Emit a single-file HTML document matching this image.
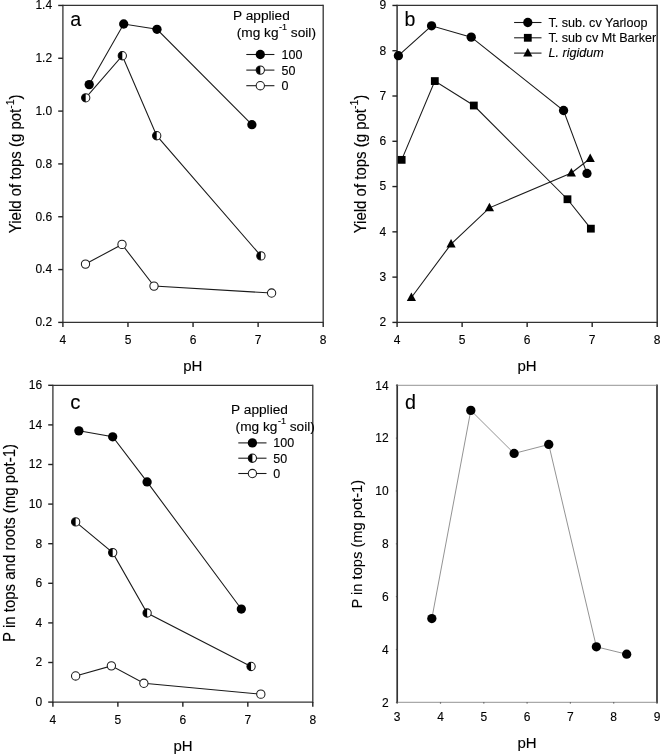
<!DOCTYPE html>
<html><head><meta charset="utf-8"><title>Figure</title>
<style>
html,body{margin:0;padding:0;background:#fff;}
svg{display:block;}
svg text{font-family:"Liberation Sans", Arial, sans-serif;fill:#000;stroke:#000;stroke-width:0.12px;}
</style></head><body>
<svg width="661" height="755" viewBox="0 0 661 755">
<rect width="661" height="755" fill="#fff"/>
<line x1="62.90" y1="4.80" x2="62.90" y2="323.05" stroke="#333" stroke-width="1.3"/>
<line x1="323.20" y1="4.80" x2="323.20" y2="323.05" stroke="#333" stroke-width="1.3"/>
<line x1="62.90" y1="5.45" x2="323.20" y2="5.45" stroke="#333" stroke-width="1.3"/>
<line x1="62.90" y1="322.40" x2="323.20" y2="322.40" stroke="#333" stroke-width="1.3"/>
<line x1="62.90" y1="322.40" x2="62.90" y2="327.10" stroke="#222" stroke-width="1.4"/>
<text x="62.90" y="343.90" font-size="12" text-anchor="middle" >4</text>
<line x1="127.97" y1="322.40" x2="127.97" y2="327.10" stroke="#222" stroke-width="1.4"/>
<text x="127.97" y="343.90" font-size="12" text-anchor="middle" >5</text>
<line x1="193.05" y1="322.40" x2="193.05" y2="327.10" stroke="#222" stroke-width="1.4"/>
<text x="193.05" y="343.90" font-size="12" text-anchor="middle" >6</text>
<line x1="258.12" y1="322.40" x2="258.12" y2="327.10" stroke="#222" stroke-width="1.4"/>
<text x="258.12" y="343.90" font-size="12" text-anchor="middle" >7</text>
<line x1="323.20" y1="322.40" x2="323.20" y2="327.10" stroke="#222" stroke-width="1.4"/>
<text x="323.20" y="343.90" font-size="12" text-anchor="middle" >8</text>
<line x1="58.20" y1="322.40" x2="62.90" y2="322.40" stroke="#222" stroke-width="1.4"/>
<text x="52.10" y="326.30" font-size="12" text-anchor="end" >0.2</text>
<line x1="58.20" y1="269.57" x2="62.90" y2="269.57" stroke="#222" stroke-width="1.4"/>
<text x="52.10" y="273.47" font-size="12" text-anchor="end" >0.4</text>
<line x1="58.20" y1="216.75" x2="62.90" y2="216.75" stroke="#222" stroke-width="1.4"/>
<text x="52.10" y="220.65" font-size="12" text-anchor="end" >0.6</text>
<line x1="58.20" y1="163.92" x2="62.90" y2="163.92" stroke="#222" stroke-width="1.4"/>
<text x="52.10" y="167.82" font-size="12" text-anchor="end" >0.8</text>
<line x1="58.20" y1="111.10" x2="62.90" y2="111.10" stroke="#222" stroke-width="1.4"/>
<text x="52.10" y="115.00" font-size="12" text-anchor="end" >1.0</text>
<line x1="58.20" y1="58.27" x2="62.90" y2="58.27" stroke="#222" stroke-width="1.4"/>
<text x="52.10" y="62.17" font-size="12" text-anchor="end" >1.2</text>
<line x1="58.20" y1="5.45" x2="62.90" y2="5.45" stroke="#222" stroke-width="1.4"/>
<text x="52.10" y="9.35" font-size="12" text-anchor="end" >1.4</text>
<polyline points="89.20,84.60 123.70,24.00 157.00,29.30 251.90,124.70" fill="none" stroke="#1a1a1a" stroke-width="1.08"/>
<polyline points="85.70,97.80 122.30,55.70 156.70,135.70 260.90,255.90" fill="none" stroke="#1a1a1a" stroke-width="1.08"/>
<polyline points="85.50,264.10 122.00,244.40 154.00,286.10 271.60,293.00" fill="none" stroke="#1a1a1a" stroke-width="1.08"/>
<circle cx="89.20" cy="84.60" r="4.65" fill="#000"/>
<circle cx="123.70" cy="24.00" r="4.65" fill="#000"/>
<circle cx="157.00" cy="29.30" r="4.65" fill="#000"/>
<circle cx="251.90" cy="124.70" r="4.65" fill="#000"/>
<circle cx="85.70" cy="97.80" r="4.15" fill="#fff" stroke="#1a1a1a" stroke-width="1.05"/>
<path d="M85.70 93.65 A4.15 4.15 0 0 0 85.70 101.95 Z" fill="#000"/>
<circle cx="122.30" cy="55.70" r="4.15" fill="#fff" stroke="#1a1a1a" stroke-width="1.05"/>
<path d="M122.30 51.55 A4.15 4.15 0 0 0 122.30 59.85 Z" fill="#000"/>
<circle cx="156.70" cy="135.70" r="4.15" fill="#fff" stroke="#1a1a1a" stroke-width="1.05"/>
<path d="M156.70 131.55 A4.15 4.15 0 0 0 156.70 139.85 Z" fill="#000"/>
<circle cx="260.90" cy="255.90" r="4.15" fill="#fff" stroke="#1a1a1a" stroke-width="1.05"/>
<path d="M260.90 251.75 A4.15 4.15 0 0 0 260.90 260.05 Z" fill="#000"/>
<circle cx="85.50" cy="264.10" r="4.15" fill="#fff" stroke="#1a1a1a" stroke-width="1.05"/>
<circle cx="122.00" cy="244.40" r="4.15" fill="#fff" stroke="#1a1a1a" stroke-width="1.05"/>
<circle cx="154.00" cy="286.10" r="4.15" fill="#fff" stroke="#1a1a1a" stroke-width="1.05"/>
<circle cx="271.60" cy="293.00" r="4.15" fill="#fff" stroke="#1a1a1a" stroke-width="1.05"/>
<text x="70.30" y="26.10" font-size="19.7" text-anchor="start" >a</text>
<text x="192.80" y="370.80" font-size="15" text-anchor="middle" >pH</text>
<text transform="translate(21.40,163.80) rotate(-90) scale(1,1.06)" font-size="15" text-anchor="middle">Yield of tops (g pot<tspan dy="-7.3" font-size="10.5">-1</tspan><tspan dy="7.3">)</tspan></text>
<text x="233.00" y="19.60" font-size="13.7" text-anchor="start" >P applied</text>
<text x="236.70" y="37.20" font-size="13.7" text-anchor="start" >(mg kg<tspan dy="-7.2" dx="0.5" font-size="9">-1</tspan><tspan dy="7.2"> soil)</tspan></text>
<line x1="246.30" y1="54.50" x2="274.40" y2="54.50" stroke="#1a1a1a" stroke-width="1.08"/>
<circle cx="260.30" cy="54.50" r="4.65" fill="#000"/>
<text x="281.60" y="58.90" font-size="12.5" text-anchor="start" >100</text>
<line x1="246.30" y1="70.10" x2="274.40" y2="70.10" stroke="#1a1a1a" stroke-width="1.08"/>
<circle cx="260.30" cy="70.10" r="4.15" fill="#fff" stroke="#1a1a1a" stroke-width="1.05"/>
<path d="M260.30 65.95 A4.15 4.15 0 0 0 260.30 74.25 Z" fill="#000"/>
<text x="281.60" y="74.50" font-size="12.5" text-anchor="start" >50</text>
<line x1="246.30" y1="85.70" x2="274.40" y2="85.70" stroke="#1a1a1a" stroke-width="1.08"/>
<circle cx="260.30" cy="85.70" r="4.15" fill="#fff" stroke="#1a1a1a" stroke-width="1.05"/>
<text x="281.60" y="90.10" font-size="12.5" text-anchor="start" >0</text>
<line x1="397.10" y1="4.70" x2="397.10" y2="323.15" stroke="#333" stroke-width="1.5"/>
<line x1="657.20" y1="4.70" x2="657.20" y2="323.15" stroke="#333" stroke-width="1.5"/>
<line x1="397.10" y1="5.45" x2="657.20" y2="5.45" stroke="#333" stroke-width="1.3"/>
<line x1="397.10" y1="322.40" x2="657.20" y2="322.40" stroke="#333" stroke-width="1.3"/>
<line x1="397.10" y1="322.40" x2="397.10" y2="327.10" stroke="#222" stroke-width="1.4"/>
<text x="397.10" y="343.90" font-size="12" text-anchor="middle" >4</text>
<line x1="462.12" y1="322.40" x2="462.12" y2="327.10" stroke="#222" stroke-width="1.4"/>
<text x="462.12" y="343.90" font-size="12" text-anchor="middle" >5</text>
<line x1="527.15" y1="322.40" x2="527.15" y2="327.10" stroke="#222" stroke-width="1.4"/>
<text x="527.15" y="343.90" font-size="12" text-anchor="middle" >6</text>
<line x1="592.18" y1="322.40" x2="592.18" y2="327.10" stroke="#222" stroke-width="1.4"/>
<text x="592.18" y="343.90" font-size="12" text-anchor="middle" >7</text>
<line x1="657.20" y1="322.40" x2="657.20" y2="327.10" stroke="#222" stroke-width="1.4"/>
<text x="657.20" y="343.90" font-size="12" text-anchor="middle" >8</text>
<line x1="392.40" y1="322.40" x2="397.10" y2="322.40" stroke="#222" stroke-width="1.4"/>
<text x="386.30" y="326.30" font-size="12" text-anchor="end" >2</text>
<line x1="392.40" y1="277.12" x2="397.10" y2="277.12" stroke="#222" stroke-width="1.4"/>
<text x="386.30" y="281.02" font-size="12" text-anchor="end" >3</text>
<line x1="392.40" y1="231.84" x2="397.10" y2="231.84" stroke="#222" stroke-width="1.4"/>
<text x="386.30" y="235.74" font-size="12" text-anchor="end" >4</text>
<line x1="392.40" y1="186.56" x2="397.10" y2="186.56" stroke="#222" stroke-width="1.4"/>
<text x="386.30" y="190.46" font-size="12" text-anchor="end" >5</text>
<line x1="392.40" y1="141.29" x2="397.10" y2="141.29" stroke="#222" stroke-width="1.4"/>
<text x="386.30" y="145.19" font-size="12" text-anchor="end" >6</text>
<line x1="392.40" y1="96.01" x2="397.10" y2="96.01" stroke="#222" stroke-width="1.4"/>
<text x="386.30" y="99.91" font-size="12" text-anchor="end" >7</text>
<line x1="392.40" y1="50.73" x2="397.10" y2="50.73" stroke="#222" stroke-width="1.4"/>
<text x="386.30" y="54.63" font-size="12" text-anchor="end" >8</text>
<line x1="392.40" y1="5.45" x2="397.10" y2="5.45" stroke="#222" stroke-width="1.4"/>
<text x="386.30" y="9.35" font-size="12" text-anchor="end" >9</text>
<polyline points="398.40,55.71 431.56,25.83 471.23,37.14 563.56,110.50 586.97,173.43" fill="none" stroke="#1a1a1a" stroke-width="1.08"/>
<polyline points="401.65,159.85 434.81,81.07 473.83,105.52 567.47,199.24 590.87,228.67" fill="none" stroke="#1a1a1a" stroke-width="1.08"/>
<polyline points="411.41,297.50 451.07,244.07 489.44,207.85 571.37,172.98 590.22,158.49" fill="none" stroke="#1a1a1a" stroke-width="1.08"/>
<circle cx="398.40" cy="55.71" r="4.65" fill="#000"/>
<circle cx="431.56" cy="25.83" r="4.65" fill="#000"/>
<circle cx="471.23" cy="37.14" r="4.65" fill="#000"/>
<circle cx="563.56" cy="110.50" r="4.65" fill="#000"/>
<circle cx="586.97" cy="173.43" r="4.65" fill="#000"/>
<rect x="397.75" y="155.95" width="7.80" height="7.80" fill="#000"/>
<rect x="430.91" y="77.17" width="7.80" height="7.80" fill="#000"/>
<rect x="469.93" y="101.62" width="7.80" height="7.80" fill="#000"/>
<rect x="563.57" y="195.34" width="7.80" height="7.80" fill="#000"/>
<rect x="586.97" y="224.77" width="7.80" height="7.80" fill="#000"/>
<path d="M411.41 292.50 L416.01 300.90 L406.81 300.90 Z" fill="#000"/>
<path d="M451.07 239.07 L455.67 247.47 L446.47 247.47 Z" fill="#000"/>
<path d="M489.44 202.85 L494.04 211.25 L484.84 211.25 Z" fill="#000"/>
<path d="M571.37 167.98 L575.97 176.38 L566.77 176.38 Z" fill="#000"/>
<path d="M590.22 153.49 L594.82 161.89 L585.62 161.89 Z" fill="#000"/>
<text x="404.60" y="25.80" font-size="19.5" text-anchor="start" >b</text>
<text x="527.00" y="370.80" font-size="15" text-anchor="middle" >pH</text>
<text transform="translate(365.90,164.00) rotate(-90) scale(1,1.06)" font-size="15" text-anchor="middle">Yield of tops (g pot<tspan dy="-7.3" font-size="10.5">-1</tspan><tspan dy="7.3">)</tspan></text>
<line x1="514.10" y1="22.50" x2="541.50" y2="22.50" stroke="#1a1a1a" stroke-width="1.08"/>
<circle cx="527.80" cy="22.50" r="4.65" fill="#000"/>
<text x="548.50" y="26.80" font-size="12.6" text-anchor="start" >T. sub. cv Yarloop</text>
<line x1="514.10" y1="37.80" x2="541.50" y2="37.80" stroke="#1a1a1a" stroke-width="1.08"/>
<rect x="523.90" y="33.90" width="7.80" height="7.80" fill="#000"/>
<text x="548.50" y="42.10" font-size="12.6" text-anchor="start" >T. sub cv Mt Barker</text>
<line x1="514.10" y1="53.10" x2="541.50" y2="53.10" stroke="#1a1a1a" stroke-width="1.08"/>
<path d="M527.80 48.10 L532.40 56.50 L523.20 56.50 Z" fill="#000"/>
<text x="548.50" y="57.40" font-size="12.6" text-anchor="start" ><tspan font-style="italic">L. rigidum</tspan></text>
<line x1="52.90" y1="384.65" x2="52.90" y2="702.75" stroke="#333" stroke-width="1.3"/>
<line x1="312.80" y1="384.65" x2="312.80" y2="702.75" stroke="#333" stroke-width="1.3"/>
<line x1="52.90" y1="385.30" x2="312.80" y2="385.30" stroke="#333" stroke-width="1.3"/>
<line x1="52.90" y1="702.10" x2="312.80" y2="702.10" stroke="#333" stroke-width="1.3"/>
<line x1="52.90" y1="702.10" x2="52.90" y2="706.80" stroke="#222" stroke-width="1.4"/>
<text x="52.90" y="723.60" font-size="12" text-anchor="middle" >4</text>
<line x1="117.88" y1="702.10" x2="117.88" y2="706.80" stroke="#222" stroke-width="1.4"/>
<text x="117.88" y="723.60" font-size="12" text-anchor="middle" >5</text>
<line x1="182.85" y1="702.10" x2="182.85" y2="706.80" stroke="#222" stroke-width="1.4"/>
<text x="182.85" y="723.60" font-size="12" text-anchor="middle" >6</text>
<line x1="247.83" y1="702.10" x2="247.83" y2="706.80" stroke="#222" stroke-width="1.4"/>
<text x="247.83" y="723.60" font-size="12" text-anchor="middle" >7</text>
<line x1="312.80" y1="702.10" x2="312.80" y2="706.80" stroke="#222" stroke-width="1.4"/>
<text x="312.80" y="723.60" font-size="12" text-anchor="middle" >8</text>
<line x1="48.20" y1="702.10" x2="52.90" y2="702.10" stroke="#222" stroke-width="1.4"/>
<text x="42.10" y="706.00" font-size="12" text-anchor="end" >0</text>
<line x1="48.20" y1="662.50" x2="52.90" y2="662.50" stroke="#222" stroke-width="1.4"/>
<text x="42.10" y="666.40" font-size="12" text-anchor="end" >2</text>
<line x1="48.20" y1="622.90" x2="52.90" y2="622.90" stroke="#222" stroke-width="1.4"/>
<text x="42.10" y="626.80" font-size="12" text-anchor="end" >4</text>
<line x1="48.20" y1="583.30" x2="52.90" y2="583.30" stroke="#222" stroke-width="1.4"/>
<text x="42.10" y="587.20" font-size="12" text-anchor="end" >6</text>
<line x1="48.20" y1="543.70" x2="52.90" y2="543.70" stroke="#222" stroke-width="1.4"/>
<text x="42.10" y="547.60" font-size="12" text-anchor="end" >8</text>
<line x1="48.20" y1="504.10" x2="52.90" y2="504.10" stroke="#222" stroke-width="1.4"/>
<text x="42.10" y="508.00" font-size="12" text-anchor="end" >10</text>
<line x1="48.20" y1="464.50" x2="52.90" y2="464.50" stroke="#222" stroke-width="1.4"/>
<text x="42.10" y="468.40" font-size="12" text-anchor="end" >12</text>
<line x1="48.20" y1="424.90" x2="52.90" y2="424.90" stroke="#222" stroke-width="1.4"/>
<text x="42.10" y="428.80" font-size="12" text-anchor="end" >14</text>
<line x1="48.20" y1="385.30" x2="52.90" y2="385.30" stroke="#222" stroke-width="1.4"/>
<text x="42.10" y="389.20" font-size="12" text-anchor="end" >16</text>
<polyline points="78.89,430.84 112.68,436.78 147.11,481.92 241.33,609.04" fill="none" stroke="#1a1a1a" stroke-width="1.08"/>
<polyline points="75.64,521.92 112.68,552.61 147.11,613.00 251.07,666.46" fill="none" stroke="#1a1a1a" stroke-width="1.08"/>
<polyline points="75.64,675.96 111.38,665.87 143.87,683.29 260.82,694.18" fill="none" stroke="#1a1a1a" stroke-width="1.08"/>
<circle cx="78.89" cy="430.84" r="4.65" fill="#000"/>
<circle cx="112.68" cy="436.78" r="4.65" fill="#000"/>
<circle cx="147.11" cy="481.92" r="4.65" fill="#000"/>
<circle cx="241.33" cy="609.04" r="4.65" fill="#000"/>
<circle cx="75.64" cy="521.92" r="4.15" fill="#fff" stroke="#1a1a1a" stroke-width="1.05"/>
<path d="M75.64 517.77 A4.15 4.15 0 0 0 75.64 526.07 Z" fill="#000"/>
<circle cx="112.68" cy="552.61" r="4.15" fill="#fff" stroke="#1a1a1a" stroke-width="1.05"/>
<path d="M112.68 548.46 A4.15 4.15 0 0 0 112.68 556.76 Z" fill="#000"/>
<circle cx="147.11" cy="613.00" r="4.15" fill="#fff" stroke="#1a1a1a" stroke-width="1.05"/>
<path d="M147.11 608.85 A4.15 4.15 0 0 0 147.11 617.15 Z" fill="#000"/>
<circle cx="251.07" cy="666.46" r="4.15" fill="#fff" stroke="#1a1a1a" stroke-width="1.05"/>
<path d="M251.07 662.31 A4.15 4.15 0 0 0 251.07 670.61 Z" fill="#000"/>
<circle cx="75.64" cy="675.96" r="4.15" fill="#fff" stroke="#1a1a1a" stroke-width="1.05"/>
<circle cx="111.38" cy="665.87" r="4.15" fill="#fff" stroke="#1a1a1a" stroke-width="1.05"/>
<circle cx="143.87" cy="683.29" r="4.15" fill="#fff" stroke="#1a1a1a" stroke-width="1.05"/>
<circle cx="260.82" cy="694.18" r="4.15" fill="#fff" stroke="#1a1a1a" stroke-width="1.05"/>
<text x="70.20" y="409.20" font-size="20.3" text-anchor="start" >c</text>
<text x="183.00" y="750.80" font-size="15" text-anchor="middle" >pH</text>
<text transform="translate(14.60,543.00) rotate(-90) scale(1,1.06)" font-size="15" text-anchor="middle">P in tops and roots (mg pot-1)</text>
<text x="231.10" y="413.80" font-size="13.7" text-anchor="start" >P applied</text>
<text x="235.60" y="430.90" font-size="13.7" text-anchor="start" >(mg kg<tspan dy="-7.2" dx="0.5" font-size="9">-1</tspan><tspan dy="7.2"> soil)</tspan></text>
<line x1="238.30" y1="442.90" x2="266.50" y2="442.90" stroke="#1a1a1a" stroke-width="1.08"/>
<circle cx="252.40" cy="442.90" r="4.65" fill="#000"/>
<text x="273.30" y="447.30" font-size="12.5" text-anchor="start" >100</text>
<line x1="238.30" y1="458.20" x2="266.50" y2="458.20" stroke="#1a1a1a" stroke-width="1.08"/>
<circle cx="252.40" cy="458.20" r="4.15" fill="#fff" stroke="#1a1a1a" stroke-width="1.05"/>
<path d="M252.40 454.05 A4.15 4.15 0 0 0 252.40 462.35 Z" fill="#000"/>
<text x="273.30" y="462.60" font-size="12.5" text-anchor="start" >50</text>
<line x1="238.30" y1="473.50" x2="266.50" y2="473.50" stroke="#1a1a1a" stroke-width="1.08"/>
<circle cx="252.40" cy="473.50" r="4.15" fill="#fff" stroke="#1a1a1a" stroke-width="1.05"/>
<text x="273.30" y="477.90" font-size="12.5" text-anchor="start" >0</text>
<line x1="397.20" y1="384.45" x2="397.20" y2="703.15" stroke="#333" stroke-width="1.7"/>
<line x1="657.00" y1="384.45" x2="657.00" y2="703.15" stroke="#333" stroke-width="1.7"/>
<line x1="397.20" y1="385.30" x2="657.00" y2="385.30" stroke="#777" stroke-width="0.8"/>
<line x1="397.20" y1="702.30" x2="657.00" y2="702.30" stroke="#777" stroke-width="0.8"/>
<line x1="397.20" y1="702.30" x2="397.20" y2="703.60" stroke="#555" stroke-width="1.2"/>
<text x="397.20" y="720.80" font-size="12" text-anchor="middle" >3</text>
<line x1="440.50" y1="702.30" x2="440.50" y2="703.60" stroke="#555" stroke-width="1.2"/>
<text x="440.50" y="720.80" font-size="12" text-anchor="middle" >4</text>
<line x1="483.80" y1="702.30" x2="483.80" y2="703.60" stroke="#555" stroke-width="1.2"/>
<text x="483.80" y="720.80" font-size="12" text-anchor="middle" >5</text>
<line x1="527.10" y1="702.30" x2="527.10" y2="703.60" stroke="#555" stroke-width="1.2"/>
<text x="527.10" y="720.80" font-size="12" text-anchor="middle" >6</text>
<line x1="570.40" y1="702.30" x2="570.40" y2="703.60" stroke="#555" stroke-width="1.2"/>
<text x="570.40" y="720.80" font-size="12" text-anchor="middle" >7</text>
<line x1="613.70" y1="702.30" x2="613.70" y2="703.60" stroke="#555" stroke-width="1.2"/>
<text x="613.70" y="720.80" font-size="12" text-anchor="middle" >8</text>
<line x1="657.00" y1="702.30" x2="657.00" y2="703.60" stroke="#555" stroke-width="1.2"/>
<text x="657.00" y="720.80" font-size="12" text-anchor="middle" >9</text>
<line x1="395.90" y1="702.30" x2="397.20" y2="702.30" stroke="#555" stroke-width="1.2"/>
<text x="388.60" y="706.60" font-size="12" text-anchor="end" >2</text>
<line x1="395.90" y1="649.47" x2="397.20" y2="649.47" stroke="#555" stroke-width="1.2"/>
<text x="388.60" y="653.77" font-size="12" text-anchor="end" >4</text>
<line x1="395.90" y1="596.63" x2="397.20" y2="596.63" stroke="#555" stroke-width="1.2"/>
<text x="388.60" y="600.93" font-size="12" text-anchor="end" >6</text>
<line x1="395.90" y1="543.80" x2="397.20" y2="543.80" stroke="#555" stroke-width="1.2"/>
<text x="388.60" y="548.10" font-size="12" text-anchor="end" >8</text>
<line x1="395.90" y1="490.97" x2="397.20" y2="490.97" stroke="#555" stroke-width="1.2"/>
<text x="388.60" y="495.27" font-size="12" text-anchor="end" >10</text>
<line x1="395.90" y1="438.13" x2="397.20" y2="438.13" stroke="#555" stroke-width="1.2"/>
<text x="388.60" y="442.43" font-size="12" text-anchor="end" >12</text>
<line x1="395.90" y1="385.30" x2="397.20" y2="385.30" stroke="#555" stroke-width="1.2"/>
<text x="388.60" y="389.60" font-size="12" text-anchor="end" >14</text>
<polyline points="431.84,618.56 470.81,410.40 514.11,453.45 548.75,444.47 596.38,646.82 626.69,654.22" fill="none" stroke="#777" stroke-width="0.8"/>
<circle cx="431.84" cy="618.56" r="4.65" fill="#000"/>
<circle cx="470.81" cy="410.40" r="4.65" fill="#000"/>
<circle cx="514.11" cy="453.45" r="4.65" fill="#000"/>
<circle cx="548.75" cy="444.47" r="4.65" fill="#000"/>
<circle cx="596.38" cy="646.82" r="4.65" fill="#000"/>
<circle cx="626.69" cy="654.22" r="4.65" fill="#000"/>
<text x="405.00" y="409.10" font-size="19.7" text-anchor="start" >d</text>
<text x="527.00" y="748.20" font-size="15" text-anchor="middle" >pH</text>
<text transform="translate(362.00,544.20) rotate(-90) scale(1,1.02)" font-size="14.7" text-anchor="middle">P in tops (mg pot-1)</text>
</svg>
</body></html>
